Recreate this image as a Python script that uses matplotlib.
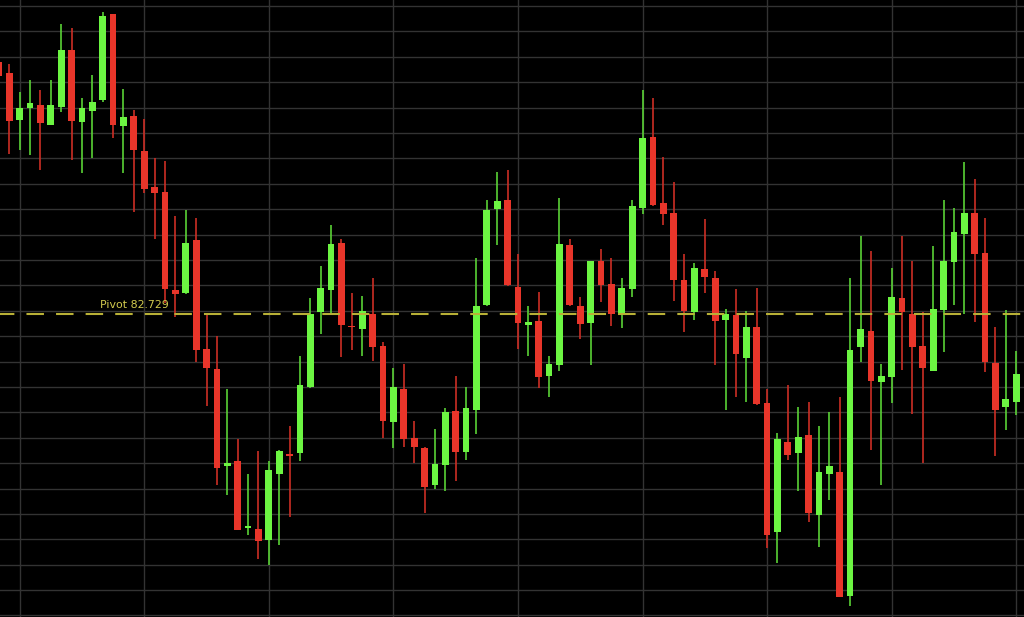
import numpy as np
import matplotlib
matplotlib.use("Agg")
import matplotlib.pyplot as plt
import matplotlib.transforms as mtransforms

# candle data (open, high, low, close)
opens = [83.720, 83.676, 83.491, 83.540, 83.552, 83.473, 83.543, 83.766, 83.484, 83.527,
         83.569, 83.908, 83.468, 83.507, 83.371, 83.226, 83.208, 82.822, 82.810, 83.017,
         82.590, 82.512, 82.130, 82.148, 81.885, 81.880, 81.838, 82.097, 82.174, 82.179,
         82.438, 82.735, 82.820, 83.008, 82.681, 82.670, 82.729, 82.601, 82.302, 82.433,
         82.240, 82.201, 82.054, 82.134, 82.345, 82.182, 82.350, 82.763, 83.140, 83.178,
         82.833, 82.684, 82.701, 82.484, 82.526, 83.000, 82.760, 82.690, 82.937, 82.845,
         82.725, 82.825, 83.143, 83.423, 83.163, 83.124, 82.861, 82.735, 82.903, 82.870,
         82.704, 82.725, 82.554, 82.678, 82.376, 81.869, 82.224, 82.179, 82.252, 81.937,
         82.097, 82.105, 81.617, 82.596, 82.659, 82.461, 82.480, 82.791, 82.729, 82.601,
         82.503, 82.743, 82.931, 83.042, 83.127, 82.969, 82.536, 82.360, 82.381]
highs = [83.730, 83.711, 83.600, 83.650, 83.611, 83.650, 83.871, 83.852, 83.580, 83.667,
         83.918, 83.910, 83.615, 83.530, 83.496, 83.340, 83.329, 83.112, 83.138, 83.107,
         82.729, 82.639, 82.430, 82.236, 82.097, 82.187, 82.148, 82.190, 82.286, 82.562,
         82.791, 82.915, 83.076, 83.024, 82.810, 82.797, 82.870, 82.616, 82.515, 82.531,
         82.306, 82.205, 82.275, 82.356, 82.484, 82.441, 82.949, 83.178, 83.285, 83.293,
         82.965, 82.760, 82.814, 82.562, 83.186, 83.022, 82.794, 82.938, 82.983, 82.949,
         82.869, 83.178, 83.611, 83.580, 83.347, 83.248, 82.965, 82.929, 83.101, 82.895,
         82.748, 82.825, 82.740, 82.830, 82.430, 82.257, 82.449, 82.360, 82.381, 82.286,
         82.342, 82.399, 82.869, 83.033, 82.976, 82.531, 82.910, 83.033, 82.938, 82.735,
         82.996, 83.178, 83.143, 83.326, 83.259, 83.104, 82.675, 82.745, 82.580]
lows = [83.650, 83.357, 83.375, 83.352, 83.295, 83.471, 83.522, 83.332, 83.282, 83.340,
        83.564, 83.419, 83.282, 83.130, 83.202, 83.024, 82.771, 82.717, 82.807, 82.537,
        82.364, 82.054, 82.015, 81.875, 81.857, 81.764, 81.737, 81.818, 81.926, 82.148,
        82.435, 82.647, 82.732, 82.557, 82.585, 82.562, 82.542, 82.240, 82.201, 82.205,
        82.139, 81.945, 82.038, 82.032, 82.069, 82.154, 82.255, 82.760, 83.000, 82.838,
        82.588, 82.562, 82.435, 82.402, 82.503, 82.760, 82.627, 82.528, 82.774, 82.681,
        82.673, 82.794, 83.123, 83.154, 83.079, 82.779, 82.655, 82.704, 82.810, 82.528,
        82.348, 82.399, 82.379, 82.368, 81.806, 81.748, 82.154, 82.030, 81.908, 81.810,
        81.996, 81.612, 81.578, 82.539, 82.193, 82.055, 82.376, 82.505, 82.333, 82.140,
        82.501, 82.577, 82.763, 82.728, 82.694, 82.500, 82.170, 82.271, 82.329]
closes = [83.666, 83.488, 83.538, 83.560, 83.481, 83.552, 83.769, 83.488, 83.538, 83.564,
          83.902, 83.471, 83.502, 83.372, 83.220, 83.205, 82.824, 82.805, 83.008, 82.585,
          82.515, 82.119, 82.139, 81.877, 81.892, 81.834, 82.112, 82.187, 82.168, 82.447,
          82.726, 82.828, 83.003, 82.684, 82.676, 82.740, 82.596, 82.306, 82.441, 82.236,
          82.202, 82.047, 82.136, 82.342, 82.185, 82.356, 82.760, 83.135, 83.171, 82.841,
          82.690, 82.694, 82.480, 82.531, 83.003, 82.763, 82.686, 82.937, 82.841, 82.728,
          82.830, 83.151, 83.419, 83.155, 83.120, 82.862, 82.740, 82.910, 82.875, 82.701,
          82.729, 82.570, 82.675, 82.371, 81.857, 82.236, 82.171, 82.244, 81.942, 82.105,
          82.128, 81.614, 82.585, 82.667, 82.464, 82.484, 82.794, 82.735, 82.596, 82.515,
          82.748, 82.937, 83.050, 83.124, 82.965, 82.539, 82.348, 82.391, 82.492]
pivot = 82.729

o = np.array(opens)
h = np.array(highs)
l = np.array(lows)
c = np.array(closes)
x = np.arange(len(o))

up = c >= o
body_col = np.where(up, "#6cf542", "#e8352a")
wick_col = np.where(up, "#5ad236", "#cc2e25")

fig = plt.figure(figsize=(10.24, 6.17), dpi=100, facecolor="black")
ax = fig.add_axes([0, 0, 1, 1])
ax.set_facecolor("black")

# grid: one vertical line every 12 candles, 0.1 steps on price
ax.set_xticks(np.arange(2, 99, 12))
ax.set_yticks(np.arange(81.54, 83.95, 0.1))
ax.grid(True, color="#333333", linewidth=1.0)
ax.set_axisbelow(True)
ax.tick_params(left=False, bottom=False, labelleft=False, labelbottom=False)
for s in ax.spines.values():
    s.set_visible(False)

# wicks then bodies
ax.vlines(x, l, h, colors=wick_col, linewidth=1.2, zorder=2)
bottoms = np.minimum(o, c)
heights = np.maximum(np.abs(c - o), 0.006)
ax.bar(x, heights, bottom=bottoms, width=0.65, color=body_col, linewidth=0, zorder=3)

# pivot line
ax.axhline(pivot, color="#b8b036", linewidth=1.5, linestyle=(1.5, (8.4, 5.8)), zorder=4)
trans = mtransforms.blended_transform_factory(ax.transAxes, ax.transData)
ax.annotate("Pivot %.3f" % pivot, xy=(0.098, pivot), xycoords=trans,
            xytext=(0, 2.5), textcoords="offset points",
            color="#d2ca4e", fontsize=7.9, va="bottom", ha="left", zorder=5)

ax.set_xlim(0.104, 98.75)
ax.set_ylim(81.534, 83.964)

plt.savefig("out.png", dpi=100, facecolor="black")
